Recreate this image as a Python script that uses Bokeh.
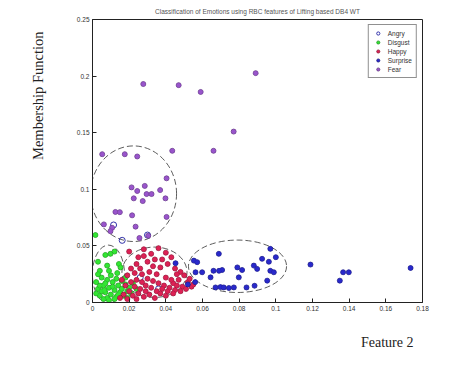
from bokeh.plotting import figure
from bokeh.models import Title, FixedTicker, Legend, LegendItem
from bokeh.embed import file_html
from bokeh.resources import INLINE

title_text = "Classification of Emotions using RBC features of Lifting based DB4 WT"
class_names = ["Angry", "Disgust", "Happy", "Surprise", "Fear"]
class_colors = ["#3333aa", "#33e633", "#dd2255", "#2a2acc", "#9955cc"]
x_ticks = [0, 0.02, 0.04, 0.06, 0.08, 0.1, 0.12, 0.14, 0.16, 0.18]
x_tick_labels = ["0", "0.02", "0.04", "0.06", "0.08", "0.1", "0.12", "0.14", "0.16", "0.18"]
y_ticks = [0, 0.05, 0.1, 0.15, 0.2, 0.25]
y_tick_labels = ["0", "0.05", "0.1", "0.15", "0.2", "0.25"]

angry_x = [0.0115, 0.030, 0.0162, 0.026, 0.036]
angry_y = [0.0685, 0.0596, 0.0549, 0.022, 0.012]

disgust_x = [0.0016, 0.007, 0.0098, 0.008, 0.0144, 0.0153, 0.003, 0.004, 0.012, 0.005,
             0.002, 0.003, 0.004, 0.006, 0.007, 0.008, 0.009, 0.010, 0.011, 0.012,
             0.013, 0.014, 0.015, 0.016, 0.017, 0.018, 0.019, 0.020, 0.021, 0.022,
             0.006, 0.009, 0.012, 0.005, 0.008, 0.010, 0.013, 0.016, 0.011, 0.007,
             0.002, 0.004, 0.014, 0.019, 0.024, 0.003, 0.009, 0.018, 0.0135, 0.0065]
disgust_y = [0.0596, 0.042, 0.043, 0.0326, 0.034, 0.031, 0.036, 0.028, 0.045, 0.022,
             0.018, 0.012, 0.006, 0.015, 0.009, 0.004, 0.013, 0.007, 0.018, 0.011,
             0.005, 0.015, 0.009, 0.012, 0.006, 0.016, 0.010, 0.013, 0.008, 0.017,
             0.003, 0.002, 0.003, 0.010, 0.020, 0.024, 0.021, 0.019, 0.014, 0.017,
             0.008, 0.015, 0.007, 0.004, 0.012, 0.025, 0.028, 0.022, 0.026, 0.011]

happy_x = [0.020, 0.025, 0.028, 0.032, 0.036, 0.040, 0.043, 0.038, 0.030, 0.024,
           0.021, 0.026, 0.033, 0.037, 0.041, 0.045, 0.048, 0.050, 0.047, 0.052,
           0.054, 0.049, 0.044, 0.040, 0.035, 0.031, 0.027, 0.023, 0.019, 0.016,
           0.018, 0.021, 0.024, 0.027, 0.030, 0.033, 0.036, 0.039, 0.042, 0.045,
           0.048, 0.051, 0.046, 0.043, 0.038, 0.035, 0.032, 0.029, 0.026, 0.023,
           0.020, 0.017, 0.022, 0.025, 0.028, 0.031, 0.034, 0.037, 0.040, 0.044,
           0.041, 0.029, 0.024, 0.019, 0.015, 0.053, 0.055, 0.046, 0.034, 0.028]
happy_y = [0.045, 0.040, 0.047, 0.043, 0.048, 0.044, 0.040, 0.038, 0.036, 0.034,
           0.030, 0.030, 0.032, 0.031, 0.034, 0.030, 0.027, 0.024, 0.020, 0.018,
           0.014, 0.014, 0.017, 0.022, 0.025, 0.027, 0.025, 0.026, 0.024, 0.020,
           0.015, 0.018, 0.020, 0.018, 0.021, 0.019, 0.017, 0.015, 0.013, 0.011,
           0.010, 0.012, 0.015, 0.020, 0.012, 0.010, 0.013, 0.015, 0.012, 0.014,
           0.010, 0.007, 0.006, 0.008, 0.005, 0.007, 0.004, 0.008, 0.006, 0.008,
           0.010, 0.010, 0.003, 0.003, 0.004, 0.021, 0.016, 0.025, 0.038, 0.041]

surprise_x = [0.0689, 0.097, 0.100, 0.0925, 0.0553, 0.0571, 0.0707, 0.066, 0.069, 0.079,
              0.0816, 0.088, 0.0898, 0.0962, 0.097, 0.0989, 0.0953, 0.0562, 0.0598, 0.0644,
              0.0798, 0.0671, 0.0698, 0.0716, 0.0744, 0.0771, 0.084, 0.0884, 0.1189, 0.1349,
              0.1367, 0.1398, 0.1735, 0.0453, 0.052, 0.056]
surprise_y = [0.043, 0.0474, 0.040, 0.0386, 0.037, 0.0356, 0.0287, 0.028, 0.028, 0.031,
              0.0287, 0.0326, 0.0297, 0.036, 0.028, 0.0267, 0.0193, 0.0267, 0.0267, 0.0222,
              0.0222, 0.0133, 0.0136, 0.0133, 0.0128, 0.0133, 0.0133, 0.0148, 0.0335, 0.0193,
              0.0267, 0.0267, 0.0305, 0.0347, 0.016, 0.018]

fear_x = [0.0277, 0.047, 0.059, 0.089, 0.077, 0.0053, 0.0176, 0.0244, 0.0435, 0.066,
          0.0213, 0.0244, 0.0285, 0.0225, 0.0274, 0.0295, 0.0322, 0.0369, 0.0404, 0.0398,
          0.0125, 0.0149, 0.0216, 0.0404, 0.0062, 0.0235, 0.0107, 0.0098, 0.0256, 0.0304]
fear_y = [0.193, 0.192, 0.186, 0.2026, 0.151, 0.131, 0.131, 0.129, 0.134, 0.134,
          0.1017, 0.0985, 0.103, 0.092, 0.0896, 0.0958, 0.0958, 0.0993, 0.1097, 0.092,
          0.080, 0.0798, 0.077, 0.0756, 0.069, 0.067, 0.066, 0.063, 0.057, 0.059]

# cluster ellipses (centre x, centre y, width, height) in data units
ell_cx = [0.0224, 0.0087, 0.0338, 0.0791]
ell_cy = [0.0961, 0.0249, 0.0267, 0.0320]
ell_w = [0.0469, 0.0175, 0.0355, 0.0535]
ell_h = [0.0845, 0.0516, 0.0445, 0.0463]

p = figure(frame_width=330, frame_height=283, output_backend="svg", toolbar_location=None,
           x_range=(0, 0.18), y_range=(0, 0.25),
           min_border_left=92, min_border_right=36, min_border_top=17, min_border_bottom=60,
           title=title_text)
p.title.text_font = "Liberation Sans"
p.title.text_font_size = "6.5px"
p.title.text_font_style = "normal"
p.title.text_color = "#555555"
p.title.align = "center"
p.grid.visible = False
p.outline_line_color = "#222222"
p.background_fill_color = "white"
p.border_fill_color = "white"

for ax in (p.xaxis[0], p.yaxis[0]):
    ax.major_tick_in = 4
    ax.major_tick_out = 0
    ax.minor_tick_in = 0
    ax.minor_tick_out = 0
    ax.major_label_text_font = "Liberation Sans"
    ax.major_label_text_font_size = "6.5px"
    ax.major_label_text_color = "#333333"
    ax.axis_line_color = "#222222"
    ax.major_tick_line_color = "#222222"
p.xaxis.ticker = FixedTicker(ticks=x_ticks)
p.yaxis.ticker = FixedTicker(ticks=y_ticks)
p.xaxis.major_label_overrides = {t: l for t, l in zip(x_ticks, x_tick_labels)}
p.yaxis.major_label_overrides = {t: l for t, l in zip(y_ticks, y_tick_labels)}
p.xaxis.major_label_standoff = 3
p.yaxis.major_label_standoff = 3

p.ellipse(x=ell_cx, y=ell_cy, width=ell_w, height=ell_h, fill_alpha=0,
          line_color="#333333", line_dash="6 3", line_width=0.8)

def darker(c):
    r, g, b = int(c[1:3], 16), int(c[3:5], 16), int(c[5:7], 16)
    return "#%02x%02x%02x" % (int(r * 0.6), int(g * 0.6), int(b * 0.6))

series = [
    (angry_x, angry_y),
    (disgust_x, disgust_y),
    (happy_x, happy_y),
    (surprise_x, surprise_y),
    (fear_x, fear_y),
]
items = []
for i, ((xs, ys), name, col) in enumerate(zip(series, class_names, class_colors)):
    if i == 0:
        r = p.scatter(xs, ys, marker="circle", size=6, fill_alpha=0, line_color=col, line_width=1)
    else:
        r = p.scatter(xs, ys, marker="circle", size=5, fill_color=col, line_color=darker(col),
                      line_width=0.7)
        p.scatter(xs, ys, marker="asterisk", size=5, line_color=col, line_width=0.8)
    items.append(LegendItem(label=name, renderers=[r]))

legend = Legend(items=items, location="top_right")
legend.label_text_font = "Liberation Sans"
legend.label_text_font_size = "6.5px"
legend.label_text_color = "#333333"
legend.glyph_width = 10
legend.glyph_height = 8
legend.label_height = 8
legend.spacing = 1
legend.padding = 4
legend.margin = 5
legend.border_line_color = "#222222"
legend.label_standoff = 5
p.add_layout(legend)

ylab = Title(text="Membership Function", align="right", offset=12, standoff=55,
             text_font="Liberation Serif", text_font_size="14.5px", text_font_style="normal",
             text_color="#222222")
xlab = Title(text="Feature 2", align="right", offset=9, standoff=38,
             text_font="Liberation Serif", text_font_size="14px", text_font_style="normal",
             text_color="#222222")
p.add_layout(ylab, "left")
p.add_layout(xlab, "below")

open("out.html", "w").write(file_html(p, INLINE))
